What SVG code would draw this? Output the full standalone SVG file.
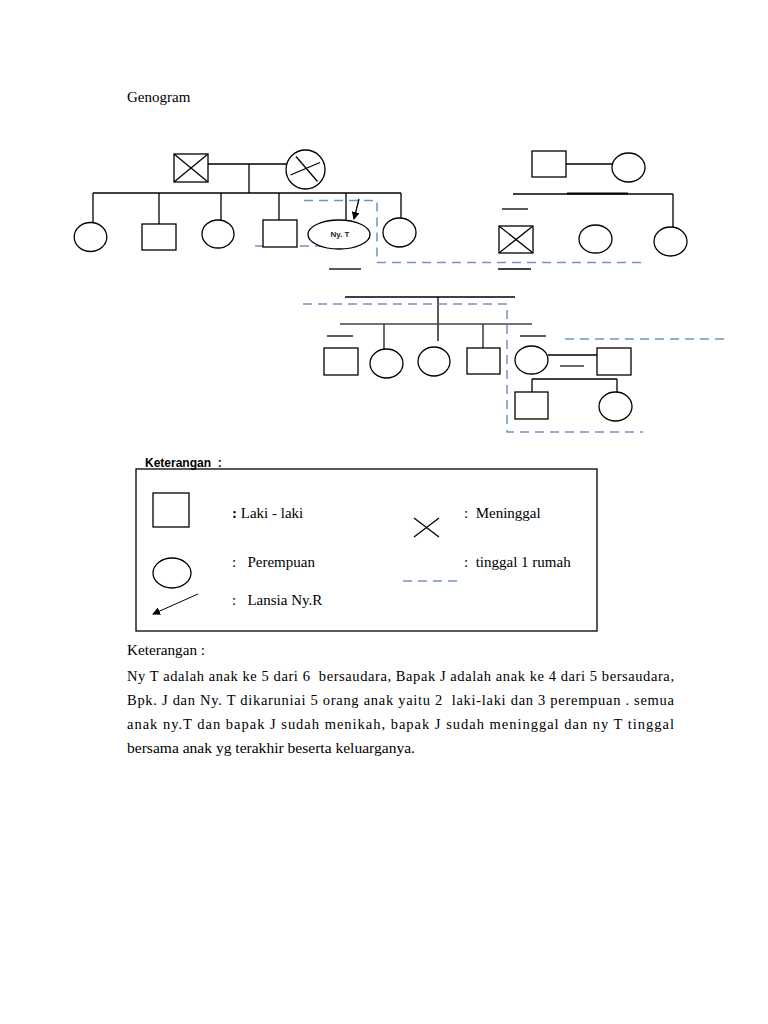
<svg xmlns="http://www.w3.org/2000/svg" width="768" height="1024" viewBox="0 0 768 1024">
<defs>
<style>
.n{fill:#fff;stroke:#000;stroke-width:1.3}
.l{stroke:#000;stroke-width:1.3;fill:none}
.g{stroke:#444;stroke-width:1.6;fill:none}
.d{stroke:#7393c4;stroke-width:1.5;fill:none;stroke-dasharray:9,6}
.t{font-family:"Liberation Serif",serif;font-size:15px;fill:#000}
.s{font-family:"Liberation Serif",serif;font-size:14.5px;fill:#000}
</style>
<marker id="ah" markerWidth="8" markerHeight="8" refX="7" refY="4" orient="auto" markerUnits="userSpaceOnUse">
<path d="M0,0 L8,4 L0,8 z" fill="#000"/>
</marker>
</defs>
<rect width="768" height="1024" fill="#fff"/>
<text class="t" x="127" y="102">Genogram</text>

<g id="connectors">
<line class="l" x1="208" y1="164" x2="286" y2="164"/>
<line class="l" x1="249" y1="164" x2="249" y2="193"/>
<line class="l" x1="93" y1="193" x2="401" y2="193"/>
<line class="l" x1="93" y1="193" x2="93" y2="223"/>
<line class="l" x1="159" y1="193" x2="159" y2="224"/>
<line class="l" x1="221" y1="193" x2="221" y2="220"/>
<line class="l" x1="279" y1="193" x2="279" y2="220"/>
<line class="l" x1="346" y1="193" x2="346" y2="220"/>
<line class="l" x1="401" y1="193" x2="401" y2="218"/>
<line class="l" x1="359" y1="199" x2="354" y2="219" marker-end="url(#ah)"/>
<line class="l" x1="329" y1="269" x2="361" y2="269"/>
<line class="l" x1="566" y1="164" x2="612" y2="164"/>
<line class="l" x1="513" y1="194" x2="673" y2="194"/>
<line class="l" x1="567" y1="193.5" x2="628" y2="193.5" style="stroke-width:2.2"/>
<line class="l" x1="673" y1="194" x2="673" y2="227"/>
<line class="l" x1="502" y1="209" x2="528" y2="209"/>
<line class="l" x1="498" y1="269" x2="531" y2="269"/>
<line class="l" x1="345" y1="297" x2="515" y2="297"/>
<line class="l" x1="438" y1="297" x2="438" y2="341"/>
<line class="g" x1="340" y1="324" x2="532" y2="324"/>
<line class="g" x1="384" y1="324" x2="384" y2="349"/>
<line class="g" x1="483" y1="324" x2="483" y2="348"/>
<line class="l" x1="327" y1="336" x2="353" y2="336"/>
<line class="l" x1="520" y1="336" x2="546" y2="336"/>
<line class="l" x1="548" y1="355" x2="597" y2="355"/>
<line class="g" x1="560" y1="366" x2="584" y2="366"/>
<line class="l" x1="532" y1="379" x2="617" y2="379"/>
<line class="l" x1="532" y1="379" x2="532" y2="392"/>
<line class="l" x1="617" y1="379" x2="617" y2="392"/>
<polyline class="d" points="304,200.5 377,200.5 377,262.5 647,262.5"/>
<line class="d" x1="255" y1="246" x2="352" y2="246"/>
<polyline class="d" points="303,304 507,304 507,432 643,432"/>
<line class="d" x1="565" y1="339" x2="728" y2="339"/>
</g>

<g id="grandfather"><rect class="n" x="174" y="154" width="34" height="28"/><line class="l" x1="174" y1="154" x2="208" y2="182"/><line class="l" x1="208" y1="154" x2="174" y2="182"/></g>
<g id="grandmother"><circle class="n" cx="305.5" cy="169.5" r="19.5"/><line class="l" x1="290.5" y1="175" x2="320" y2="162.5"/><line class="l" x1="296" y1="156.5" x2="317.5" y2="181.5"/></g>
<g id="sib1"><ellipse class="n" cx="90.5" cy="237" rx="16.3" ry="14.5"/></g>
<g id="sib2"><rect class="n" x="142" y="224" width="34" height="26"/></g>
<g id="sib3"><ellipse class="n" cx="218" cy="234" rx="16" ry="14"/></g>
<g id="sib4"><rect class="n" x="263" y="220" width="34" height="27"/></g>
<g id="nyT"><ellipse class="n" cx="339" cy="234.5" rx="31" ry="14.5"/><text x="340" y="237" text-anchor="middle" style="font-family:'Liberation Sans',sans-serif;font-size:8px;font-weight:bold;fill:#222">Ny. T</text></g>
<g id="sib6"><ellipse class="n" cx="399.5" cy="232.5" rx="16.5" ry="14.5"/></g>

<g id="pgf"><rect class="n" x="532" y="151" width="34" height="26"/></g>
<g id="pgm"><ellipse class="n" cx="628.5" cy="167.5" rx="16.5" ry="14.5"/></g>
<g id="psib1"><rect class="n" x="499" y="226" width="34" height="27"/><line class="l" x1="499" y1="226" x2="533" y2="253"/><line class="l" x1="533" y1="226" x2="499" y2="253"/></g>
<g id="psib2"><ellipse class="n" cx="595.5" cy="239" rx="16.5" ry="14"/></g>
<g id="psib3"><ellipse class="n" cx="670.5" cy="241.5" rx="16.5" ry="14.5"/></g>

<g id="child1"><rect class="n" x="324" y="348" width="34" height="27"/></g>
<g id="child2"><ellipse class="n" cx="386.5" cy="363.5" rx="16.5" ry="14.5"/></g>
<g id="child3"><ellipse class="n" cx="434" cy="361.5" rx="16" ry="14.5"/></g>
<g id="child4"><rect class="n" x="467" y="348" width="33" height="26"/></g>
<g id="child5"><ellipse class="n" cx="531.5" cy="360" rx="16.5" ry="14"/></g>
<g id="spouse5"><rect class="n" x="597" y="348" width="34" height="27"/></g>
<g id="grandchild1"><rect class="n" x="515" y="392" width="33" height="27"/></g>
<g id="grandchild2"><ellipse class="n" cx="615.5" cy="406.5" rx="16.5" ry="14.5"/></g>

<g id="legend">
<text x="145" y="467" style="font-family:'Liberation Sans',sans-serif;font-size:12px;font-weight:bold;fill:#000" xml:space="preserve">Keterangan  :</text>
<rect x="136" y="469" width="461" height="162" fill="none" stroke="#000" stroke-width="1.3"/>
<rect class="n" x="153" y="493" width="36" height="34"/>
<text class="t" x="232" y="518"><tspan font-weight="bold">:</tspan> Laki - laki</text>
<line class="l" x1="414" y1="518" x2="439" y2="537"/>
<line class="l" x1="439" y1="518" x2="414" y2="537"/>
<text class="t" x="464" y="518" xml:space="preserve">:  Meninggal</text>
<ellipse class="n" cx="172" cy="573" rx="19" ry="15"/>
<text class="t" x="232" y="567" xml:space="preserve">:   Perempuan</text>
<text class="t" x="464" y="567" xml:space="preserve">:  tinggal 1 rumah</text>
<line class="d" x1="403" y1="581" x2="458" y2="581"/>
<line x1="198" y1="594" x2="153" y2="614" stroke="#000" stroke-width="1" marker-end="url(#ah)"/>
<text class="t" x="232" y="605" xml:space="preserve">:   Lansia Ny.R</text>
</g>

<g id="notes">
<text class="s" x="127" y="655" textLength="78" lengthAdjust="spacingAndGlyphs">Keterangan :</text>
<text class="s" x="127" y="681" textLength="547" lengthAdjust="spacing" xml:space="preserve">Ny T adalah anak ke 5 dari 6  bersaudara, Bapak J adalah anak ke 4 dari 5 bersaudara,</text>
<text class="s" x="127" y="705" textLength="547" lengthAdjust="spacing" xml:space="preserve">Bpk. J dan Ny. T dikaruniai 5 orang anak yaitu 2  laki-laki dan 3 perempuan . semua</text>
<text class="s" x="127" y="729" textLength="547" lengthAdjust="spacing">anak ny.T dan bapak J sudah menikah, bapak J sudah meninggal dan ny T tinggal</text>
<text class="s" x="127" y="753" textLength="288" lengthAdjust="spacingAndGlyphs">bersama anak yg terakhir beserta keluarganya.</text>
</g>
</svg>
